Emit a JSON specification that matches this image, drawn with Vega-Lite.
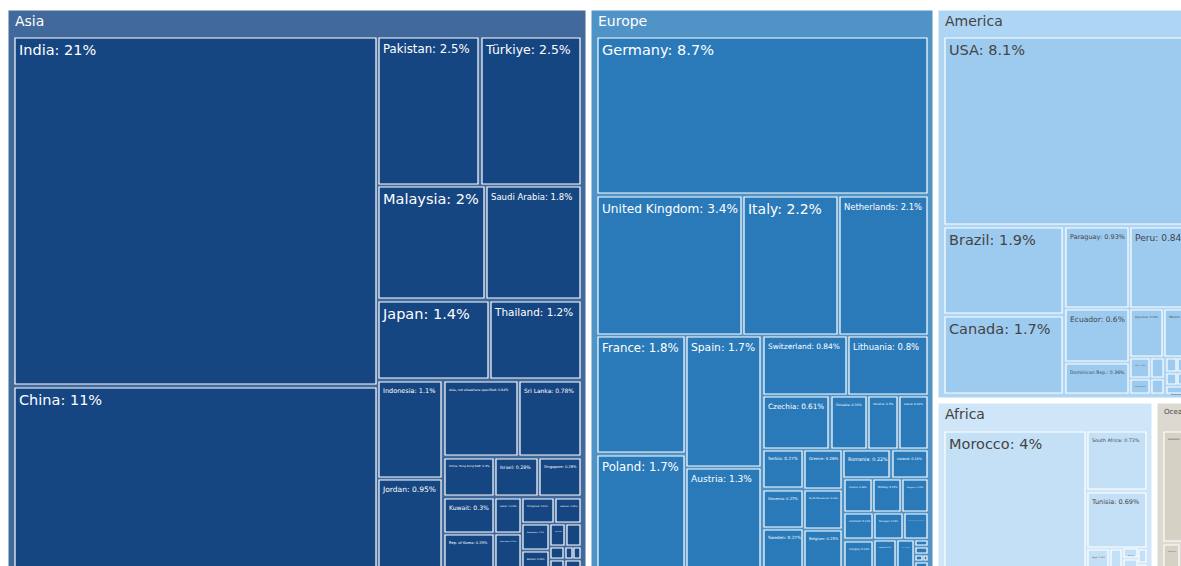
{
  "$schema": "https://vega.github.io/schema/vega-lite/v6.json",
  "width": 1181,
  "height": 566,
  "padding": 0,
  "autosize": {"type": "fit", "contains": "padding"},
  "background": "white",
  "config": {"view": {"stroke": null}, "font": "DejaVu Sans"},
  "datasets": {
    "regions": [
      {"region": "Asia", "x0": 8, "x1": 586, "y0": 10, "y1": 580},
      {"region": "Europe", "x0": 591, "x1": 933, "y0": 10, "y1": 580},
      {"region": "America", "x0": 938, "x1": 1200, "y0": 10, "y1": 398},
      {"region": "Africa", "x0": 938, "x1": 1152, "y0": 403, "y1": 580},
      {"region": "Oceania", "x0": 1157, "x1": 1200, "y0": 403, "y1": 580}
    ],
    "tiles": [
      {"region": "Asia", "country": "India", "share": 21, "x0": 15, "x1": 376, "y0": 38, "y1": 384},
      {"region": "Asia", "country": "China", "share": 11, "x0": 15, "x1": 376, "y0": 388, "y1": 576},
      {"region": "Asia", "country": "Pakistan", "share": 2.5, "x0": 379, "x1": 478, "y0": 38, "y1": 184},
      {"region": "Asia", "country": "Türkiye", "share": 2.5, "x0": 482, "x1": 580, "y0": 38, "y1": 184},
      {"region": "Asia", "country": "Malaysia", "share": 2, "x0": 379, "x1": 484, "y0": 187, "y1": 298},
      {"region": "Asia", "country": "Saudi Arabia", "share": 1.8, "x0": 487, "x1": 580, "y0": 187, "y1": 298},
      {"region": "Asia", "country": "Japan", "share": 1.4, "x0": 379, "x1": 488, "y0": 302, "y1": 378},
      {"region": "Asia", "country": "Thailand", "share": 1.2, "x0": 491, "x1": 580, "y0": 302, "y1": 378},
      {"region": "Asia", "country": "Indonesia", "share": 1.1, "x0": 379, "x1": 441, "y0": 382, "y1": 477},
      {"region": "Asia", "country": "Jordan", "share": 0.95, "x0": 379, "x1": 441, "y0": 480, "y1": 576},
      {"region": "Asia", "country": "Asia, not elsewhere specified", "share": 0.94, "x0": 445, "x1": 517, "y0": 382, "y1": 455},
      {"region": "Asia", "country": "Sri Lanka", "share": 0.78, "x0": 520, "x1": 580, "y0": 382, "y1": 455},
      {"region": "Asia", "country": "China, Hong Kong SAR", "share": 0.3, "x0": 445, "x1": 493, "y0": 459, "y1": 495},
      {"region": "Asia", "country": "Israel", "share": 0.28, "x0": 496, "x1": 537, "y0": 459, "y1": 495},
      {"region": "Asia", "country": "Singapore", "share": 0.28, "x0": 540, "x1": 580, "y0": 459, "y1": 495},
      {"region": "Asia", "country": "Kuwait", "share": 0.3, "x0": 445, "x1": 493, "y0": 499, "y1": 532},
      {"region": "Asia", "country": "Rep. of Korea", "share": 0.29, "x0": 445, "x1": 493, "y0": 535, "y1": 576},
      {"region": "Asia", "country": "Qatar", "share": 0.14, "x0": 496, "x1": 520, "y0": 499, "y1": 532},
      {"region": "Asia", "country": "Uzbekistan", "share": 0.15, "x0": 496, "x1": 520, "y0": 535, "y1": 576},
      {"region": "Asia", "country": "Philippines", "share": 0.12, "x0": 523, "x1": 553, "y0": 499, "y1": 522},
      {"region": "Asia", "country": "Lebanon", "share": 0.09, "x0": 556, "x1": 580, "y0": 499, "y1": 522},
      {"region": "Asia", "country": "Azerbaijan", "share": 0.1, "x0": 523, "x1": 548, "y0": 525, "y1": 549},
      {"region": "Asia", "country": "Oman", "share": 0.05, "x0": 551, "x1": 564, "y0": 525, "y1": 545},
      {"region": "Asia", "country": "Bangladesh", "share": 0.04, "x0": 567, "x1": 580, "y0": 525, "y1": 545},
      {"region": "Asia", "country": "Bahrain", "share": 0.08, "x0": 523, "x1": 548, "y0": 552, "y1": 576},
      {"region": "Asia", "country": "Georgia", "share": 0.02, "x0": 551, "x1": 563, "y0": 548, "y1": 558},
      {"region": "Asia", "country": "Kyrgyzstan", "share": 0.01, "x0": 566, "x1": 572, "y0": 548, "y1": 558},
      {"region": "Asia", "country": "Mongolia", "share": 0.01, "x0": 574, "x1": 580, "y0": 548, "y1": 558},
      {"region": "Asia", "country": "Nepal", "share": 0.02, "x0": 551, "x1": 563, "y0": 561, "y1": 576},
      {"region": "Asia", "country": "Cambodia", "share": 0.02, "x0": 566, "x1": 580, "y0": 561, "y1": 576},
      {"region": "Europe", "country": "Germany", "share": 8.7, "x0": 598, "x1": 927, "y0": 38, "y1": 193},
      {"region": "Europe", "country": "United Kingdom", "share": 3.4, "x0": 598, "x1": 741, "y0": 197, "y1": 334},
      {"region": "Europe", "country": "Italy", "share": 2.2, "x0": 744, "x1": 837, "y0": 197, "y1": 334},
      {"region": "Europe", "country": "Netherlands", "share": 2.1, "x0": 840, "x1": 927, "y0": 197, "y1": 334},
      {"region": "Europe", "country": "France", "share": 1.8, "x0": 598, "x1": 684, "y0": 337, "y1": 452},
      {"region": "Europe", "country": "Poland", "share": 1.7, "x0": 598, "x1": 684, "y0": 456, "y1": 576},
      {"region": "Europe", "country": "Spain", "share": 1.7, "x0": 687, "x1": 760, "y0": 337, "y1": 466},
      {"region": "Europe", "country": "Austria", "share": 1.3, "x0": 687, "x1": 760, "y0": 469, "y1": 576},
      {"region": "Europe", "country": "Switzerland", "share": 0.84, "x0": 764, "x1": 846, "y0": 337, "y1": 394},
      {"region": "Europe", "country": "Lithuania", "share": 0.8, "x0": 849, "x1": 927, "y0": 337, "y1": 394},
      {"region": "Europe", "country": "Czechia", "share": 0.61, "x0": 764, "x1": 828, "y0": 397, "y1": 448},
      {"region": "Europe", "country": "Slovakia", "share": 0.36, "x0": 832, "x1": 866, "y0": 397, "y1": 448},
      {"region": "Europe", "country": "Ukraine", "share": 0.3, "x0": 869, "x1": 897, "y0": 397, "y1": 448},
      {"region": "Europe", "country": "Latvia", "share": 0.29, "x0": 900, "x1": 927, "y0": 397, "y1": 448},
      {"region": "Europe", "country": "Serbia", "share": 0.27, "x0": 764, "x1": 802, "y0": 451, "y1": 487},
      {"region": "Europe", "country": "Greece", "share": 0.26, "x0": 805, "x1": 841, "y0": 451, "y1": 488},
      {"region": "Europe", "country": "Slovenia", "share": 0.27, "x0": 764, "x1": 802, "y0": 491, "y1": 527},
      {"region": "Europe", "country": "North Macedonia", "share": 0.26, "x0": 805, "x1": 841, "y0": 491, "y1": 528},
      {"region": "Europe", "country": "Sweden", "share": 0.27, "x0": 764, "x1": 802, "y0": 530, "y1": 576},
      {"region": "Europe", "country": "Belgium", "share": 0.25, "x0": 805, "x1": 841, "y0": 531, "y1": 576},
      {"region": "Europe", "country": "Romania", "share": 0.22, "x0": 844, "x1": 889, "y0": 451, "y1": 477},
      {"region": "Europe", "country": "Ireland", "share": 0.18, "x0": 893, "x1": 927, "y0": 451, "y1": 477},
      {"region": "Europe", "country": "Croatia", "share": 0.16, "x0": 845, "x1": 871, "y0": 480, "y1": 511},
      {"region": "Europe", "country": "Norway", "share": 0.16, "x0": 874, "x1": 900, "y0": 480, "y1": 511},
      {"region": "Europe", "country": "Bulgaria", "share": 0.15, "x0": 903, "x1": 927, "y0": 480, "y1": 511},
      {"region": "Europe", "country": "Denmark", "share": 0.13, "x0": 845, "x1": 872, "y0": 514, "y1": 538},
      {"region": "Europe", "country": "Portugal", "share": 0.13, "x0": 875, "x1": 902, "y0": 514, "y1": 538},
      {"region": "Europe", "country": "Bosnia Herzegovina", "share": 0.11, "x0": 905, "x1": 927, "y0": 514, "y1": 538},
      {"region": "Europe", "country": "Hungary", "share": 0.12, "x0": 845, "x1": 872, "y0": 542, "y1": 576},
      {"region": "Europe", "country": "Finland", "share": 0.1, "x0": 875, "x1": 895, "y0": 541, "y1": 576},
      {"region": "Europe", "country": "Estonia", "share": 0.08, "x0": 898, "x1": 913, "y0": 541, "y1": 576},
      {"region": "Europe", "country": "Albania", "share": 0.02, "x0": 916, "x1": 927, "y0": 541, "y1": 545},
      {"region": "Europe", "country": "Luxembourg", "share": 0.02, "x0": 916, "x1": 927, "y0": 548, "y1": 553},
      {"region": "Europe", "country": "Malta", "share": 0.01, "x0": 916, "x1": 922, "y0": 556, "y1": 560},
      {"region": "Europe", "country": "Cyprus", "share": 0.01, "x0": 924, "x1": 927, "y0": 556, "y1": 560},
      {"region": "Europe", "country": "Iceland", "share": 0.01, "x0": 916, "x1": 927, "y0": 563, "y1": 576},
      {"region": "America", "country": "USA", "share": 8.1, "x0": 945, "x1": 1194, "y0": 38, "y1": 224},
      {"region": "America", "country": "Brazil", "share": 1.9, "x0": 945, "x1": 1062, "y0": 228, "y1": 313},
      {"region": "America", "country": "Canada", "share": 1.7, "x0": 945, "x1": 1062, "y0": 317, "y1": 393},
      {"region": "America", "country": "Paraguay", "share": 0.93, "x0": 1066, "x1": 1128, "y0": 228, "y1": 307},
      {"region": "America", "country": "Peru", "share": 0.84, "x0": 1131, "x1": 1194, "y0": 228, "y1": 307},
      {"region": "America", "country": "Ecuador", "share": 0.6, "x0": 1066, "x1": 1128, "y0": 310, "y1": 361},
      {"region": "America", "country": "Dominican Rep.", "share": 0.36, "x0": 1066, "x1": 1128, "y0": 364, "y1": 393},
      {"region": "America", "country": "Argentina", "share": 0.28, "x0": 1131, "x1": 1162, "y0": 310, "y1": 356},
      {"region": "America", "country": "Mexico", "share": 0.17, "x0": 1165, "x1": 1194, "y0": 310, "y1": 356},
      {"region": "America", "country": "Chile", "share": 0.06, "x0": 1131, "x1": 1149, "y0": 359, "y1": 377},
      {"region": "America", "country": "Colombia", "share": 0.04, "x0": 1152, "x1": 1163, "y0": 359, "y1": 377},
      {"region": "America", "country": "Uruguay", "share": 0.04, "x0": 1131, "x1": 1149, "y0": 380, "y1": 393},
      {"region": "America", "country": "Bolivia", "share": 0.03, "x0": 1152, "x1": 1163, "y0": 380, "y1": 393},
      {"region": "America", "country": "Costa Rica", "share": 0.02, "x0": 1167, "x1": 1176, "y0": 359, "y1": 371},
      {"region": "America", "country": "Panama", "share": 0.01, "x0": 1178, "x1": 1194, "y0": 359, "y1": 371},
      {"region": "America", "country": "Cuba", "share": 0.02, "x0": 1167, "x1": 1176, "y0": 374, "y1": 384},
      {"region": "America", "country": "Haiti", "share": 0.01, "x0": 1178, "x1": 1194, "y0": 374, "y1": 384},
      {"region": "America", "country": "Venezuela", "share": 0.02, "x0": 1167, "x1": 1194, "y0": 387, "y1": 393},
      {"region": "Africa", "country": "Morocco", "share": 4, "x0": 945, "x1": 1085, "y0": 432, "y1": 576},
      {"region": "Africa", "country": "South Africa", "share": 0.73, "x0": 1088, "x1": 1146, "y0": 432, "y1": 489},
      {"region": "Africa", "country": "Tunisia", "share": 0.69, "x0": 1088, "x1": 1146, "y0": 493, "y1": 547},
      {"region": "Africa", "country": "Egypt", "share": 0.12, "x0": 1088, "x1": 1108, "y0": 550, "y1": 576},
      {"region": "Africa", "country": "Algeria", "share": 0.06, "x0": 1111, "x1": 1121, "y0": 550, "y1": 576},
      {"region": "Africa", "country": "Nigeria", "share": 0.03, "x0": 1124, "x1": 1137, "y0": 549, "y1": 557},
      {"region": "Africa", "country": "Kenya", "share": 0.02, "x0": 1139, "x1": 1146, "y0": 550, "y1": 562},
      {"region": "Africa", "country": "Ghana", "share": 0.03, "x0": 1124, "x1": 1137, "y0": 560, "y1": 576},
      {"region": "Africa", "country": "Senegal", "share": 0.01, "x0": 1139, "x1": 1146, "y0": 565, "y1": 576},
      {"region": "Oceania", "country": "Australia", "share": 0.55, "x0": 1164, "x1": 1194, "y0": 432, "y1": 541},
      {"region": "Oceania", "country": "New Zealand", "share": 0.1, "x0": 1164, "x1": 1179, "y0": 545, "y1": 576},
      {"region": "Oceania", "country": "Fiji", "share": 0.03, "x0": 1182, "x1": 1194, "y0": 545, "y1": 576}
    ]
  },
  "encoding": {
    "x": {"field": "x0", "type": "quantitative", "scale": {"domain": [0, 1181], "nice": false, "zero": false}, "axis": null},
    "y": {"field": "y0", "type": "quantitative", "scale": {"domain": [0, 566], "nice": false, "zero": false, "reverse": true}, "axis": null}
  },
  "layer": [
    {
      "data": {"name": "regions"},
      "mark": {"type": "rect", "stroke": "white", "strokeWidth": 1, "clip": true},
      "encoding": {
        "x2": {"field": "x1"},
        "y2": {"field": "y1"},
        "color": {"field": "region", "type": "nominal", "legend": null,
          "scale": {"domain": ["Asia", "Europe", "America", "Africa", "Oceania"], "range": ["#41699b", "#4f93c7", "#afd5f4", "#cfe5f8", "#dcdad0"]}}
      }
    },
    {
      "data": {"name": "regions"},
      "transform": [
        {"calculate": "max(1, min(14, (datum.x1 - datum.x0 - 14) / (length(datum.region) * 0.58)))", "as": "fs"}
      ],
      "mark": {"type": "text", "align": "left", "baseline": "top", "dx": 7, "dy": 5, "clip": true},
      "encoding": {
        "text": {"field": "region"},
        "size": {"field": "fs", "type": "quantitative", "scale": null},
        "color": {"field": "region", "type": "nominal", "legend": null,
          "scale": {"domain": ["Asia", "Europe", "America", "Africa", "Oceania"], "range": ["#ffffff", "#ffffff", "#444444", "#444444", "#444444"]}}
      }
    },
    {
      "data": {"name": "tiles"},
      "mark": {"type": "rect", "stroke": "white", "strokeWidth": 1.2, "clip": true},
      "encoding": {
        "x2": {"field": "x1"},
        "y2": {"field": "y1"},
        "color": {"field": "region", "type": "nominal", "legend": null,
          "scale": {"domain": ["Asia", "Europe", "America", "Africa", "Oceania"], "range": ["#164682", "#2a7ab9", "#9dcbf0", "#c4e0f6", "#d5d2c5"]}}
      }
    },
    {
      "data": {"name": "tiles"},
      "transform": [
        {"calculate": "datum.country + ': ' + datum.share + '%'", "as": "label"},
        {"calculate": "max(0.5, min(14.5, (datum.x1 - datum.x0 - 7) / (length(datum.label) * 0.56), datum.y1 - datum.y0 - 4))", "as": "fs"}
      ],
      "mark": {"type": "text", "align": "left", "baseline": "top", "dx": 4, "dy": 6, "clip": true},
      "encoding": {
        "text": {"field": "label"},
        "size": {"field": "fs", "type": "quantitative", "scale": null},
        "color": {"field": "region", "type": "nominal", "legend": null,
          "scale": {"domain": ["Asia", "Europe", "America", "Africa", "Oceania"], "range": ["#ffffff", "#ffffff", "#444444", "#444444", "#444444"]}}
      }
    }
  ],
  "resolve": {"scale": {"color": "independent"}}
}
